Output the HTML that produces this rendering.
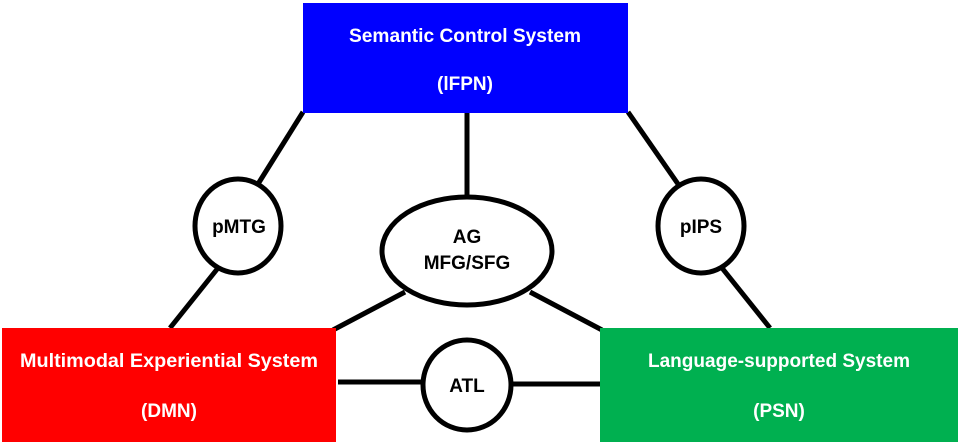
<!DOCTYPE html>
<html><head><style>html,body{margin:0;padding:0;background:#fff;}svg{display:block}</style></head>
<body>
<svg width="962" height="444" viewBox="0 0 962 444" xmlns="http://www.w3.org/2000/svg" font-family="Liberation Sans, sans-serif" font-weight="bold">
<g stroke="#000" stroke-width="5" fill="none">
<line x1="303" y1="112" x2="258" y2="184"/>
<line x1="218" y1="268" x2="170" y2="328"/>
<line x1="467" y1="112" x2="467" y2="196"/>
<line x1="628" y1="112" x2="678" y2="184"/>
<line x1="722" y1="268" x2="770" y2="328"/>
<line x1="405" y1="292" x2="333" y2="330"/>
<line x1="530" y1="292" x2="602" y2="330"/>
<line x1="338" y1="382" x2="423" y2="382"/>
<line x1="511" y1="384" x2="601" y2="384"/>
</g>
<rect x="303" y="3" width="325" height="110" fill="#0000ff"/>
<rect x="2" y="328" width="334" height="114" fill="#ff0000"/>
<rect x="600" y="328" width="358" height="114" fill="#00b050"/>
<g stroke="#000" stroke-width="5" fill="#fff">
<ellipse cx="238" cy="226" rx="43" ry="47"/>
<ellipse cx="701" cy="226" rx="43" ry="47"/>
<ellipse cx="467" cy="251" rx="85" ry="54"/>
<ellipse cx="467" cy="385" rx="44" ry="45"/>
</g>
<g font-size="19" fill="#fff" text-anchor="middle">
<text x="465" y="42" textLength="232" lengthAdjust="spacingAndGlyphs">Semantic Control System</text>
<text x="465" y="90">(lFPN)</text>
<text x="169" y="367" textLength="298" lengthAdjust="spacingAndGlyphs">Multimodal Experiential System</text>
<text x="169" y="417">(DMN)</text>
<text x="779" y="367" textLength="262" lengthAdjust="spacingAndGlyphs">Language-supported System</text>
<text x="779" y="417">(PSN)</text>
</g>
<g font-size="19" fill="#000" text-anchor="middle">
<text x="239" y="233">pMTG</text>
<text x="701" y="233">pIPS</text>
<text x="467" y="243">AG</text>
<text x="467" y="269">MFG/SFG</text>
<text x="467" y="392">ATL</text>
</g>
</svg>
</body></html>
